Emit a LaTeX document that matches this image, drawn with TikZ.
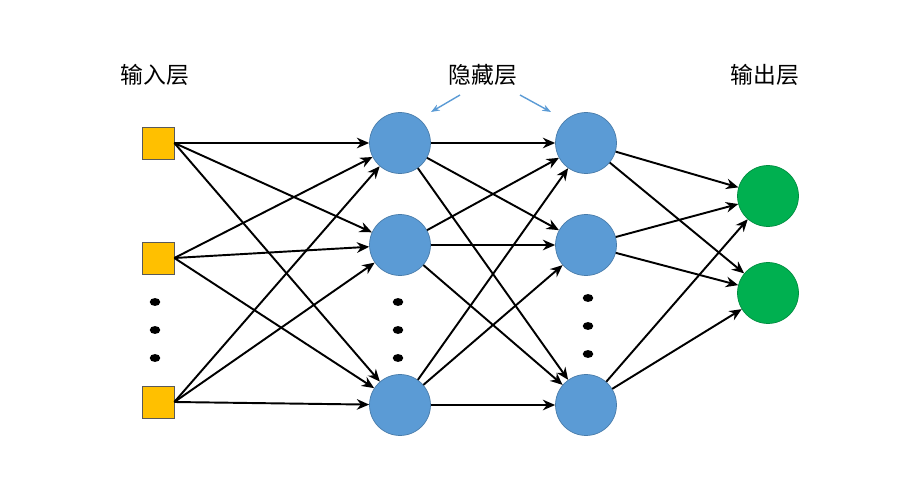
\documentclass[tikz,border=0pt]{standalone}
\usepackage{fontspec}
\newfontfamily\cjk{Noto Sans CJK SC}
\usetikzlibrary{arrows.meta,shapes.geometric}
\definecolor{sq}{HTML}{FFC000}
\definecolor{bl}{HTML}{5B9BD5}
\definecolor{gr}{HTML}{00B050}
\begin{document}
\begin{tikzpicture}[x=0.02cm,y=-0.02cm,
  insq/.style={draw=gray!70!black,fill=sq,minimum size=0.64cm,inner sep=0},
  hid/.style={circle,draw=bl!80!black,fill=bl,minimum size=1.22cm,inner sep=0},
  outc/.style={circle,draw=gr!80!black,fill=gr,minimum size=1.22cm,inner sep=0},
  edge/.style={-{Stealth[length=7pt,width=6pt]},line width=1.1pt},
  lab/.style={font=\cjk\fontsize{13pt}{15pt}\selectfont},
  dot/.style={ellipse,fill=black,minimum width=6pt,minimum height=4.5pt,inner sep=0},
  ann/.style={-{Stealth[length=5pt]},draw=bl,line width=0.8pt}]
\useasboundingbox (0,0) rectangle (900,500);
\node[insq] (i1) at (158,143) {};
\node[insq] (i2) at (158,258) {};
\node[insq] (i3) at (158,402) {};
\node[hid] (a1) at (400,143) {};
\node[hid] (a2) at (400,245) {};
\node[hid] (a3) at (400,405) {};
\node[hid] (b1) at (586,143) {};
\node[hid] (b2) at (586,245) {};
\node[hid] (b3) at (586,405) {};
\node[outc] (o1) at (768,196) {};
\node[outc] (o2) at (768,293) {};
\foreach \y [count=\k] in {302,330,358}{
  \node[dot] (d\k) at (155,\y) {};
  \node[dot] (e\k) at (398,\y) {};
  \node[dot] (f\k) at (588,\y-4) {};
}
\foreach \s in {i1,i2,i3}\foreach \t in {a1,a2,a3}\draw[edge] (\s.east) -- (\t);
\foreach \s in {a1,a2,a3}\foreach \t in {b1,b2,b3}\draw[edge] (\s) -- (\t);
\foreach \s in {b1,b2,b3}\foreach \t in {o1,o2}\draw[edge] (\s) -- (\t);
\node[lab] (l1) at (155,75) {输入层};
\node[lab] (l2) at (483,75) {隐藏层};
\node[lab] (l3) at (765,75) {输出层};
\coordinate (c1) at (460,95);
\coordinate (c2) at (520,95);
\coordinate (t1) at (431,112);
\coordinate (t2) at (551,112);
\draw[ann] (c1) -- (t1);
\draw[ann] (c2) -- (t2);
\end{tikzpicture}
\end{document}
